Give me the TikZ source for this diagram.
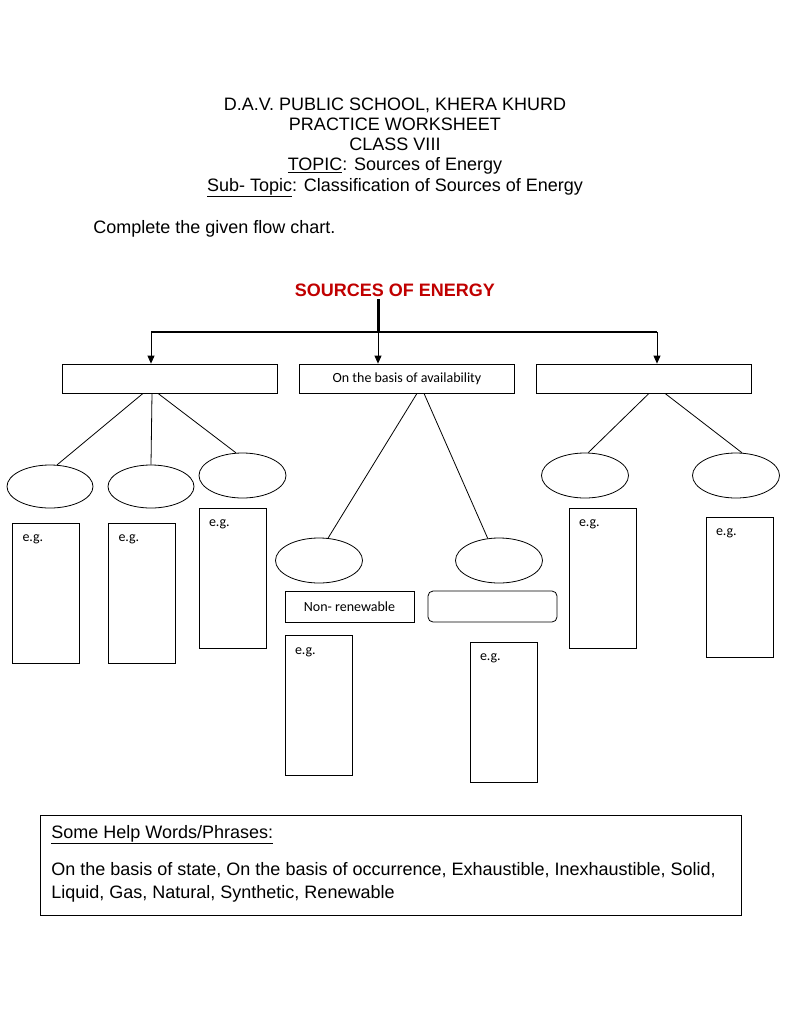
\documentclass[tikz,border=0pt]{standalone}
\usepackage{fontspec}
\setmainfont{Liberation Sans}
\newfontfamily\calibri{Carlito}
\usetikzlibrary{shapes.geometric,arrows.meta}
\definecolor{headred}{RGB}{192,0,0}
\tikzset{
  bigtext/.style={font=\fontsize{18}{20.25}\selectfont,inner sep=0pt},
  smalltext/.style={font=\calibri\fontsize{14}{16}\selectfont,inner sep=0pt},
  topbox/.style={draw,minimum width=215pt,minimum height=29pt,inner sep=0pt,font=\calibri\fontsize{14}{16}\selectfont},
  ovalA/.style={draw,ellipse,minimum width=86pt,minimum height=43pt,inner sep=0pt},
  ovalB/.style={draw,ellipse,minimum width=87pt,minimum height=45pt,inner sep=0pt},
  egbox/.style={draw,minimum width=67pt,minimum height=140pt,inner sep=0pt},
  namebox/.style={draw,minimum width=129pt,minimum height=31pt,inner sep=0pt,font=\calibri\fontsize{14}{16}\selectfont},
  drop/.style={-{Triangle[length=8pt,width=7pt]}}
}
\begin{document}
\begin{tikzpicture}[x=1pt,y=-1pt,line width=0.8pt]
\useasboundingbox (0,0) rectangle (791,1023);
\node[bigtext,align=center,anchor=north] (title) at (395,97.1) {D.A.V. PUBLIC SCHOOL, KHERA KHURD\\PRACTICE WORKSHEET\\CLASS VIII\\\underline{TOPIC}: Sources of Energy\\\underline{Sub- Topic}: Classification of Sources of Energy};
\node[bigtext,anchor=base west] (task) at (93,233) {Complete the given flow chart.};
\node[bigtext,anchor=base,text=headred,font=\bfseries\fontsize{18}{20.25}\selectfont] (soe) at (395,296) {SOURCES OF ENERGY};
\coordinate (stem) at (378,299);
\coordinate (hub) at (378,332);
\coordinate (ll) at (151,332);
\coordinate (rr) at (657,332);
\node[topbox] (lbox) at (169.5,378.5) {};
\node[topbox] (mbox) at (407,378.5) {On the basis of availability};
\node[topbox] (rbox) at (643.5,378.5) {};
\draw[line width=3pt] (stem) -- (hub);
\draw[line width=2.7pt] (ll) -- (rr);
\draw[drop] (ll) -- (lbox.north -| ll);
\draw[drop] (hub) -- (mbox.north -| hub);
\draw[drop] (rr) -- (rbox.north -| rr);
\node[ovalA] (o1) at (50,486.5) {};
\node[ovalA] (o2) at (151,486.5) {};
\node[ovalB] (o3) at (242.5,475.5) {};
\node[ovalB] (o4) at (585,475.5) {};
\node[ovalB] (o5) at (736,475.5) {};
\node[ovalB] (o6) at (319,560.5) {};
\node[ovalB] (o7) at (499,560.5) {};
\draw ([xshift=-26.5pt]lbox.south) -- (o1.72);
\draw ([xshift=-17.5pt]lbox.south) -- (o2.north);
\draw ([xshift=-11.5pt]lbox.south) -- (o3.106);
\draw ([xshift=10pt]mbox.south) -- (o6.68);
\draw ([xshift=17pt]mbox.south) -- (o7.117);
\draw ([xshift=5.5pt]rbox.south) -- (o4.82);
\draw ([xshift=21.5pt]rbox.south) -- (o5.75);
\node[namebox] (nrb) at (349.5,606.5) {Non- renewable};
\node[namebox,rounded corners=5pt] (rnb) at (492.5,606.5) {};
\node[egbox] (b1) at (46,593) {};
\node[egbox] (b2) at (142,593) {};
\node[egbox] (b3) at (232.5,578) {};
\node[egbox] (b4) at (318.5,705.5) {};
\node[egbox] (b5) at (503.5,712) {};
\node[egbox] (b6) at (602.5,578) {};
\node[egbox] (b7) at (739.5,587) {};
\foreach \b in {b1,b2,b3,b4,b5,b6,b7}
  \node[smalltext,anchor=base west] (\b eg) at ([shift={(10,19)}]\b.north west) {e.g.};
\node[draw,minimum width=701pt,minimum height=100pt,inner sep=0pt] (help) at (390.5,865) {};
\node[bigtext,anchor=base west] (helphead) at (51,838) {\underline{Some Help Words/Phrases:}};
\node[bigtext,anchor=base west] (helpline1) at (51,875) {On the basis of state, On the basis of occurrence, Exhaustible, Inexhaustible, Solid,};
\node[bigtext,anchor=base west] (helpline2) at (51,898) {Liquid, Gas, Natural, Synthetic, Renewable};
\end{tikzpicture}
\end{document}
